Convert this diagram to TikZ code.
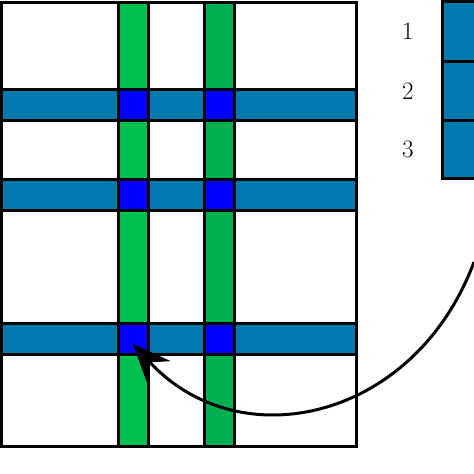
\documentclass[tikz,border=0pt]{standalone}
\usepackage{tikz}
\usetikzlibrary{arrows.meta}
\usetikzlibrary{calc}
\usetikzlibrary{positioning}
\definecolor{rowblue}{RGB}{0,121,174}
\definecolor{colgreenA}{RGB}{0,192,80}
\definecolor{colgreenB}{RGB}{0,176,80}
\definecolor{crossblue}{RGB}{0,0,255}

\begin{document}
\begin{tikzpicture}[x=1pt,y=-1pt,line width=3pt,
  bar/.style={draw=black,line width=3pt},
  cross/.style={draw=black,fill=crossblue,line width=3pt,minimum width=30pt,minimum height=31pt,inner sep=0pt},
  cell/.style={draw=black,fill=rowblue,line width=3pt,minimum width=40pt,minimum height=58.5pt,inner sep=0pt,outer sep=0pt},
  idx/.style={font=\fontsize{25}{28}\selectfont,inner sep=3pt}]
\useasboundingbox (0,0) rectangle (474,474);
% the grid
\draw[bar,fill=white] (1.5,2) rectangle (356,446);
\foreach \y in {105,195,339}
  \draw[bar,fill=rowblue] (1.5,\y-15.5) rectangle (356,\y+15.5);
\draw[bar,fill=colgreenA] (118,2) rectangle (148,446);
\draw[bar,fill=colgreenB] (204,2) rectangle (234,446);
\foreach \r/\y in {1/105,2/195,3/339}
  \foreach \c/\x in {1/133,2/219}
    \node[cross] (c\r\c) at (\x,\y) {};
% the list on the right
\node[cell] (p1) at (462,1.5) [anchor=north west,xshift=-20pt,minimum height=60pt] {};
\node[cell,below=0pt of p1] (p2) {};
\node[cell,below=0pt of p2] (p3) {};
\node[idx,left=24pt of p1] (n1) {1};
\node[idx,left=24pt of p2] (n2) {2};
\node[idx,left=24pt of p3] (n3) {3};
% the arrow
\coordinate (src) at (474,262);
\draw[-{Stealth[length=38pt,width=32pt,inset=13pt]},line width=3pt] (src) .. controls (415,420) and (240,460) .. ($(c31.center)+(0,5)$);
\end{tikzpicture}
\end{document}
